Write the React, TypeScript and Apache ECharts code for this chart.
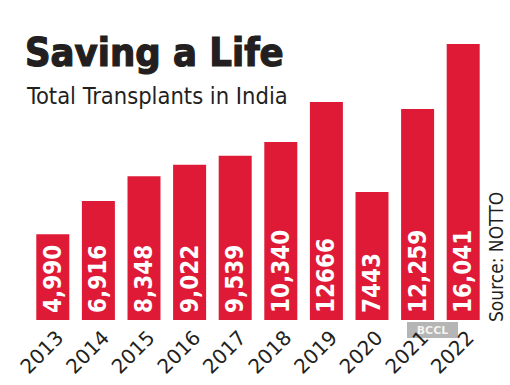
import React, { useEffect, useRef } from "react";
import * as echarts from "echarts";

const years = ["2013", "2014", "2015", "2016", "2017", "2018", "2019", "2020", "2021", "2022"];
const transplants = [4990, 6916, 8348, 9022, 9539, 10340, 12666, 7443, 12259, 16041];
const valueLabels = ["4,990", "6,916", "8,348", "9,022", "9,539", "10,340", "12666", "7443", "12,259", "16,041"];

const BAR_RED = "#DF1A36";
const COND = "'DejaVu Sans Condensed', 'Liberation Sans Narrow', 'DejaVu Sans', sans-serif";

export default function App() {
  const ref = useRef<HTMLDivElement>(null);
  useEffect(() => {
    document.body.style.margin = "0";
    const chart = echarts.init(ref.current!, null, { renderer: "svg" });
    chart.setOption({
      animation: false,
      backgroundColor: "#ffffff",
      title: [
        {
          text: "Saving a Life",
          left: 20,
          top: 27,
          textStyle: {
            fontFamily: COND,
            fontWeight: "bold",
            fontSize: 39.5,
            color: "#231f20",
            textBorderColor: "#231f20",
            textBorderWidth: 1.2,
          },
        },
        {
          text: "Total Transplants in India",
          left: 22,
          top: 79,
          textStyle: { fontFamily: COND, fontWeight: "normal", fontSize: 23.5, color: "#231f20" },
        },
      ],
      grid: { left: 30, right: 24, top: 44, bottom: 65 },
      xAxis: {
        type: "category",
        data: years,
        axisLine: { show: false },
        axisTick: { show: false },
        axisLabel: {
          rotate: 45,
          margin: 7,
          verticalAlign: "top",
          fontFamily: "'DejaVu Sans', sans-serif",
          fontSize: 20,
          color: "#231f20",
          interval: 0,
        },
      },
      yAxis: {
        type: "value",
        min: 0,
        max: 16041,
        show: false,
        splitLine: { show: false },
      },
      series: [
        {
          type: "bar",
          data: transplants,
          barWidth: 33,
          itemStyle: { color: BAR_RED },
          label: {
            show: true,
            position: "insideBottom",
            rotate: 90,
            align: "left",
            verticalAlign: "middle",
            distance: 7,
            color: "#ffffff",
            fontFamily: COND,
            fontWeight: "bold",
            fontSize: 24,
            formatter: (p: any) => valueLabels[p.dataIndex],
          },
        },
      ],
      graphic: [
        {
          type: "text",
          x: 496,
          y: 322,
          rotation: Math.PI / 2,
          style: {
            text: "Source: NOTTO",
            fontFamily: COND,
            fontSize: 19,
            fill: "#231f20",
            align: "left",
            verticalAlign: "middle",
          },
        },
        {
          type: "group",
          children: [
            {
              type: "rect",
              shape: { x: 407, y: 322, width: 51, height: 16 },
              style: { fill: "rgba(120,120,120,0.55)" },
            },
            {
              type: "text",
              x: 432.5,
              y: 330,
              style: {
                text: "BCCL",
                fontFamily: "'DejaVu Sans', sans-serif",
                fontSize: 11,
                fontWeight: "bold",
                fill: "rgba(255,255,255,0.85)",
                align: "center",
                verticalAlign: "middle",
              },
            },
          ],
        },
      ],
    });
    return () => chart.dispose();
  }, []);
  return <div ref={ref} style={{ width: 510, height: 385 }} />;
}
